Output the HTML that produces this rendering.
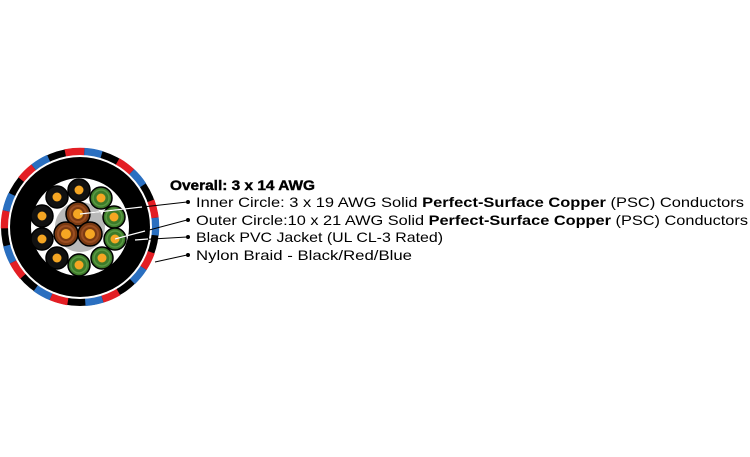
<!DOCTYPE html>
<html><head><style>body{margin:0;background:#fff}svg{display:block}</style></head><body>
<svg width="750" height="457" xmlns="http://www.w3.org/2000/svg" font-family="Liberation Sans, sans-serif">
<circle cx="80" cy="227" r="79" fill="#000"/>
<g fill="none" stroke-width="7.5" transform="rotate(-100 80 227)">
<circle cx="80" cy="227" r="75.5" stroke="#e31e24" stroke-dasharray="17.5 35" stroke-dashoffset="0"/>
<circle cx="80" cy="227" r="75.5" stroke="#2a6fc0" stroke-dasharray="17.5 35" stroke-dashoffset="-17.5"/>
</g>
<circle cx="80" cy="227" r="72" fill="#fff"/>
<circle cx="80" cy="227" r="70" fill="#000"/>
<circle cx="80" cy="227" r="49" fill="#fff"/>
<circle cx="80" cy="227" r="25" fill="#b9b9b9"/>
<g stroke="#000" stroke-width="1.5">
<g fill="#111"><circle cx="57" cy="197" r="11"/><circle cx="79" cy="190" r="11"/><circle cx="42" cy="216" r="11"/><circle cx="42" cy="239" r="11"/><circle cx="57" cy="258" r="11"/></g>
<g fill="#3d7a2a"><circle cx="101" cy="198" r="11"/><circle cx="114" cy="217" r="11"/><circle cx="115" cy="239" r="11"/><circle cx="102" cy="258" r="11"/><circle cx="79" cy="265" r="11"/></g>
<g fill="#7a3a12"><circle cx="78" cy="214" r="12"/><circle cx="66" cy="234" r="12"/><circle cx="90" cy="234" r="12"/></g>
</g>
<g fill="none" stroke="#9c4f22" stroke-width="2">
<circle cx="78" cy="214" r="8"/><circle cx="66" cy="234" r="8"/><circle cx="90" cy="234" r="8"/>
</g>
<g fill="none" stroke="#5a9a44" stroke-width="1.5">
<circle cx="101" cy="198" r="8"/><circle cx="114" cy="217" r="8"/><circle cx="115" cy="239" r="8"/><circle cx="102" cy="258" r="8"/><circle cx="79" cy="265" r="8"/>
</g>
<g fill="#f5a623">
<circle cx="57" cy="197" r="4.5"/><circle cx="79" cy="190" r="4.5"/><circle cx="42" cy="216" r="4.5"/><circle cx="42" cy="239" r="4.5"/><circle cx="57" cy="258" r="4.5"/>
<circle cx="101" cy="198" r="4.5"/><circle cx="114" cy="217" r="4.5"/><circle cx="115" cy="239" r="4.5"/><circle cx="102" cy="258" r="4.5"/><circle cx="79" cy="265" r="4.5"/>
<circle cx="78" cy="214" r="5"/><circle cx="66" cy="234" r="5"/><circle cx="90" cy="234" r="5"/>
</g>
<g stroke="#000" stroke-width="1">
<line x1="80" y1="214" x2="187" y2="202"/>
<line x1="115" y1="239" x2="187" y2="220"/>
<line x1="135" y1="240" x2="187" y2="237"/>
<line x1="155" y1="262" x2="187" y2="255"/>
</g>
<g stroke="#fff" stroke-width="1.2">
<line x1="80" y1="214" x2="142" y2="207"/>
<line x1="115" y1="239" x2="145" y2="231"/>
<line x1="135" y1="240" x2="148" y2="239"/>
</g>
<g fill="#000"><circle cx="188" cy="202" r="2"/><circle cx="188" cy="220" r="2"/><circle cx="188" cy="237" r="2"/><circle cx="188" cy="255" r="2"/></g>
<text x="170" y="190" font-size="14" font-weight="bold" stroke="#000" stroke-width="0.4" textLength="145" lengthAdjust="spacingAndGlyphs">Overall: 3 x 14 AWG</text>
<g font-size="14">
<text x="196" y="207" textLength="548" lengthAdjust="spacingAndGlyphs">Inner Circle: 3 x 19 AWG Solid <tspan font-weight="bold">Perfect-Surface Copper</tspan> (PSC) Conductors</text>
<text x="196" y="225" textLength="552" lengthAdjust="spacingAndGlyphs">Outer Circle:10 x 21 AWG Solid <tspan font-weight="bold">Perfect-Surface Copper</tspan> (PSC) Conductors</text>
<text x="196" y="242" textLength="247" lengthAdjust="spacingAndGlyphs">Black PVC Jacket (UL CL-3 Rated)</text>
<text x="196" y="260" textLength="216" lengthAdjust="spacingAndGlyphs">Nylon Braid - Black/Red/Blue</text>
</g>
</svg>
</body></html>
